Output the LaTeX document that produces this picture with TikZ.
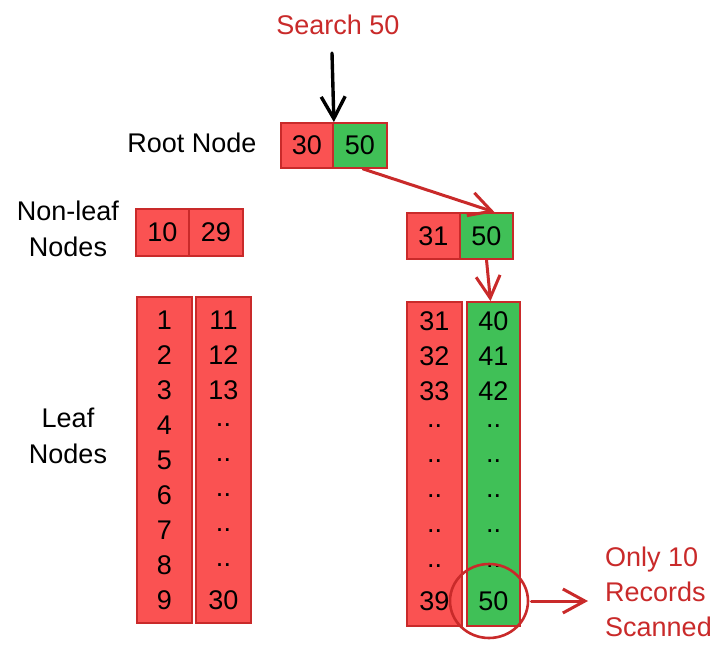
\documentclass[tikz,border=0pt]{standalone}
\usepackage{fontspec}
\setmainfont{Liberation Sans}
\usetikzlibrary{arrows.meta,shapes.geometric}
\definecolor{strokered}{HTML}{C92A2A}
\definecolor{fillred}{HTML}{FA5252}
\definecolor{fillgreen}{HTML}{40C057}
\tikzset{
  txt/.style={font=\fontsize{27}{36}\selectfont, inner sep=0pt},
  cell/.style={draw=strokered, line width=1.8pt, inner sep=0pt, txt},
  rcell/.style={cell, fill=fillred},
  gcell/.style={cell, fill=fillgreen},
  num/.style={txt},
  redtxt/.style={txt, text=strokered},
  barb/.style={-{Straight Barb[length=22pt,width=24pt]}, line width=3pt, line cap=round},
  redarrow/.style={barb, draw=strokered},
  blackarrow/.style={barb, draw=black, line width=3.4pt},
}
\begin{document}
\begin{tikzpicture}[x=1pt,y=-1pt]
\useasboundingbox (0,0) rectangle (724,656);
% title
\node[redtxt] (search) at (338,25) {Search 50};
\coordinate (stop) at (332,53);
% root
\node[rcell, minimum width=52pt, minimum height=45pt] (r30) at (307,145.5) {30};
\node[gcell, minimum width=54pt, minimum height=45pt] (r50) at (360,145.5) {50};
\node[txt] (rootlbl) at (192,143) {Root Node};
% non-leaf
\node[txt, align=center] (nllbl) at (68,229) {Non-leaf\\Nodes};
\node[rcell, minimum width=53pt, minimum height=47pt] (n10) at (162.5,232.5) {10};
\node[rcell, minimum width=54pt, minimum height=47pt] (n29) at (216,232.5) {29};
\node[rcell, minimum width=53pt, minimum height=46pt] (n31) at (433.5,236) {31};
\node[gcell, minimum width=53pt, minimum height=46pt] (n50) at (486.5,236) {50};
% leaf label
\node[txt, align=center] (leaflbl) at (68,436) {Leaf\\Nodes};
% leaf columns
\node[rcell, minimum width=55pt, minimum height=326pt] (lc1) at (164.5,460) {};
\node[rcell, minimum width=55pt, minimum height=326pt] (lc2) at (223.5,460) {};
\node[rcell, minimum width=55pt, minimum height=324pt] (rc1) at (434.5,464) {};
\node[gcell, minimum width=53pt, minimum height=324pt] (rc2) at (493.5,464) {};
% numbers
\foreach \t [count=\i] in {1,2,3,4,5,6,7,8,9}
  \node[num] (a\i) at (164.5,{320+35*(\i-1)}) {\t};
\foreach \t [count=\i] in {11,12,13,..,..,..,..,..,30}
  \node[num] (b\i) at (223.5,{320+35*(\i-1)}) {\t};
\foreach \t [count=\i] in {31,32,33,..,..,..,..,..,39}
  \node[num] (c\i) at (434.5,{321+35*(\i-1)}) {\t};
\foreach \t [count=\i] in {40,41,42,..,..,..,..,..,50}
  \node[num] (d\i) at (493.5,{321+35*(\i-1)}) {\t};
% highlight circle
\node[ellipse, draw=strokered, line width=2.6pt, minimum width=78pt, minimum height=74pt, inner sep=0pt] (hit) at (489,601) {};
% note
\node[redtxt, align=left, anchor=west, font=\fontsize{27}{35}\selectfont] (note) at (605,592) {Only 10\\Records\\Scanned};
% arrows
\draw[blackarrow] (stop) -- (r30.north east);
\draw[redarrow] ([xshift=3pt]r50.south) -- ([xshift=8pt]n50.north);
\draw[redarrow] (n50.south) -- ([xshift=-3pt]rc2.north);
\draw[redarrow, shorten >=17pt] ([xshift=2pt]hit.east) -- (hit.east -| note.west);
\end{tikzpicture}
\end{document}
